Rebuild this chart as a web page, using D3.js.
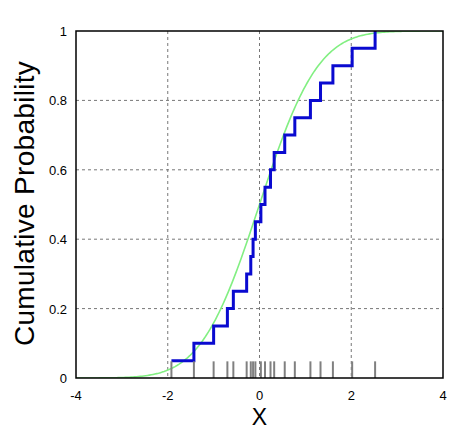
<!DOCTYPE html>
<html>
<head>
<meta charset="utf-8">
<script src="https://cdn.jsdelivr.net/npm/d3@7"></script>
<style>
  body { margin: 0; background: #fff; }
  text { font-family: Arial, "Liberation Sans", sans-serif; }
</style>
</head>
<body>
<script>
// DATA

var samples = [-1.92, -1.43, -1.00, -0.70, -0.57, -0.28, -0.19, -0.14, -0.09, 0.03,
               0.12, 0.24, 0.32, 0.55, 0.77, 1.11, 1.33, 1.60, 2.02, 2.52];
var xTicks = [-4, -2, 0, 2, 4];
var yTicks = [0, 0.2, 0.4, 0.6, 0.8, 1];
var yTickLabels = ["0", "0.2", "0.4", "0.6", "0.8", "1"];
var normalMean = 0;
var normalSd = 1;

// CHART STRUCTURE

var svgWidth = 474;
var svgHeight = 435;
var margin = {top: 31, right: 31, bottom: 57, left: 76};
var width = svgWidth - margin.left - margin.right;
var height = svgHeight - margin.top - margin.bottom;

var svg = d3.select("body")
  .append("svg")
  .attr("width", svgWidth)
  .attr("height", svgHeight);

var chart = svg.append("g")
  .attr("transform", `translate(${margin.left}, ${margin.top})`);

// SCALES

var xScale = d3.scaleLinear().domain([-4, 4]).range([0, width]);
var yScale = d3.scaleLinear().domain([0, 1]).range([height, 0]);

// GRID

chart.append("g")
  .selectAll("line")
  .data(xTicks.slice(1, -1))
  .enter()
  .append("line")
  .attr("x1", d => xScale(d))
  .attr("x2", d => xScale(d))
  .attr("y1", 0)
  .attr("y2", height)
  .attr("stroke", "#777")
  .attr("stroke-width", 1)
  .attr("stroke-dasharray", "3,3");

chart.append("g")
  .selectAll("line")
  .data(yTicks.slice(1, -1))
  .enter()
  .append("line")
  .attr("x1", 0)
  .attr("x2", width)
  .attr("y1", d => yScale(d))
  .attr("y2", d => yScale(d))
  .attr("stroke", "#777")
  .attr("stroke-width", 1)
  .attr("stroke-dasharray", "3,3");

chart.append("clipPath")
  .attr("id", "plotClip")
  .append("rect")
  .attr("width", width)
  .attr("height", height);

// NORMAL CDF

function erf(x) {
  var s = x < 0 ? -1 : 1;
  x = Math.abs(x);
  var t = 1 / (1 + 0.3275911 * x);
  var y = 1 - (((((1.061405429 * t - 1.453152027) * t) + 1.421413741) * t - 0.284496736) * t + 0.254829592) * t * Math.exp(-x * x);
  return s * y;
}

function normalCdf(x) {
  return 0.5 * (1 + erf((x - normalMean) / (normalSd * Math.SQRT2)));
}

var curveXs = d3.range(-4, 4.0001, 0.04);

chart.append("path")
  .datum(curveXs)
  .attr("clip-path", "url(#plotClip)")
  .attr("fill", "none")
  .attr("stroke", "#82ef82")
  .attr("stroke-width", 1.6)
  .attr("d", d3.line()
    .x(d => xScale(d))
    .y(d => yScale(normalCdf(d))));

// EMPIRICAL CDF

var sorted = samples.slice().sort(d3.ascending);
var ecdf = sorted.map((d, i) => ({x: d, p: (i + 1) / sorted.length}));

chart.append("path")
  .datum(ecdf)
  .attr("fill", "none")
  .attr("stroke", "#0a0ad0")
  .attr("stroke-width", 3)
  .attr("d", d3.line()
    .curve(d3.curveStepAfter)
    .x(d => xScale(d.x))
    .y(d => yScale(d.p)));

// RUG

chart.append("g")
  .selectAll("line")
  .data(samples)
  .enter()
  .append("line")
  .attr("x1", d => xScale(d))
  .attr("x2", d => xScale(d))
  .attr("y1", yScale(0))
  .attr("y2", yScale(0.048))
  .attr("stroke", "#808080")
  .attr("stroke-width", 2);

// FRAME

chart.append("rect")
  .attr("width", width)
  .attr("height", height)
  .attr("fill", "none")
  .attr("stroke", "#000")
  .attr("stroke-width", 1.5);

// TICK LABELS

chart.append("g")
  .selectAll("text")
  .data(xTicks)
  .enter()
  .append("text")
  .attr("x", d => xScale(d))
  .attr("y", height + 22)
  .attr("text-anchor", "middle")
  .attr("font-size", 13)
  .text(d => d);

chart.append("g")
  .selectAll("text")
  .data(yTicks)
  .enter()
  .append("text")
  .attr("x", -9)
  .attr("y", d => yScale(d) + 5)
  .attr("text-anchor", "end")
  .attr("font-size", 13)
  .text((d, i) => yTickLabels[i]);

// AXIS TITLES

svg.append("text")
  .attr("x", margin.left + width / 2)
  .attr("y", 425)
  .attr("text-anchor", "middle")
  .attr("font-size", 23)
  .text("X");

svg.append("text")
  .attr("transform", `translate(34, ${margin.top + height / 2 - 1}) rotate(-90)`)
  .attr("text-anchor", "middle")
  .attr("font-size", 28)
  .attr("letter-spacing", 0.3)
  .text("Cumulative Probability");
</script>
</body>
</html>
